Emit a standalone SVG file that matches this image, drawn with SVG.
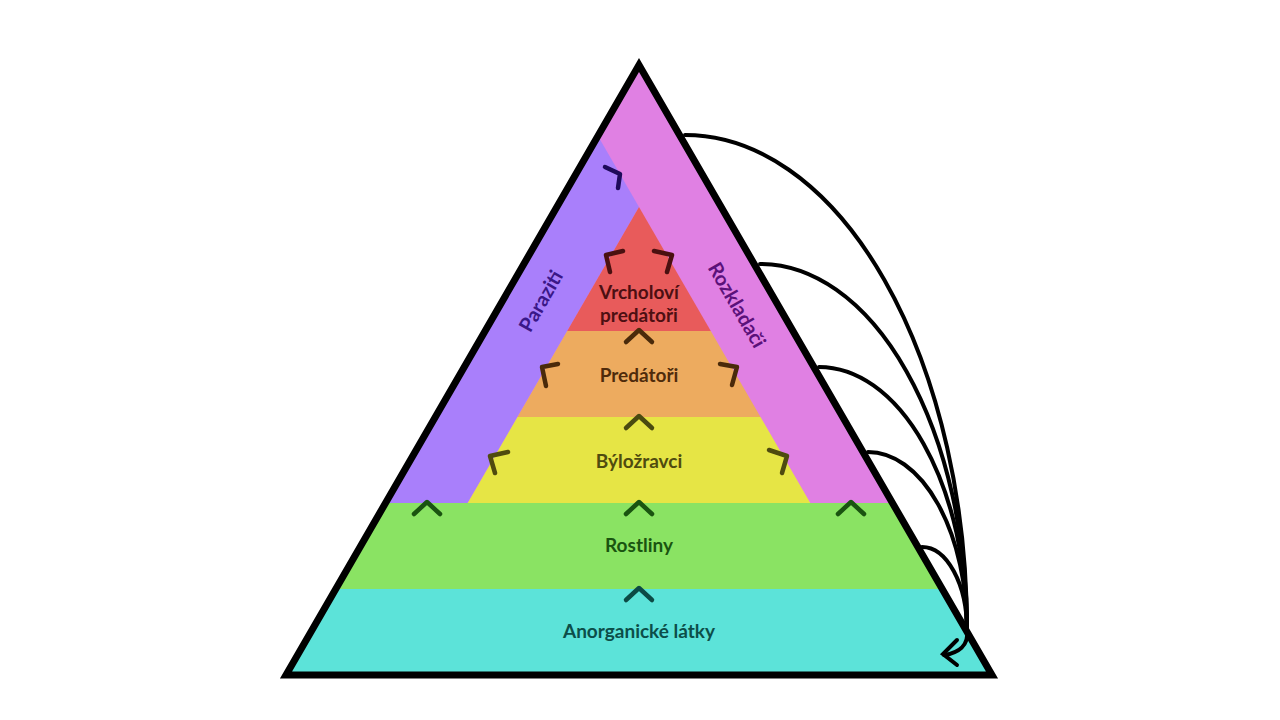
<svg xmlns="http://www.w3.org/2000/svg" width="1280" height="720" viewBox="0 0 1280 720">
<defs>
<clipPath id="tri"><polygon points="639,65 992,675 286,675"/></clipPath>
<style>
.lbl{font-family:Lato,"Open Sans","DejaVu Sans",sans-serif;font-weight:bold;font-size:19px;text-anchor:middle}
.side{font-size:20px}
.chev{fill:none;stroke-width:4.5;stroke-linecap:round;stroke-linejoin:round}
.con{fill:none;stroke:#000;stroke-width:4;stroke-linecap:round}
</style>
</defs>
<rect width="1280" height="720" fill="#ffffff"/>
<g id="pyramid" clip-path="url(#tri)">
<polygon id="rozkladaci-band" points="639,65 992,675 286,675" fill="#e080e3"/>
<polygon id="paraziti-band" points="598,136 639,207 467.7,503 200,503 200,136" fill="#a97ffb"/>
<polygon id="vrcholovi-band" points="639,207 710.8,331 567.2,331" fill="#e85b5b"/>
<polygon id="predatori-band" points="567.2,331 710.8,331 760.5,417 517.5,417" fill="#edab5f"/>
<polygon id="bylozravci-band" points="517.5,417 760.5,417 810.3,503 467.7,503" fill="#e6e545"/>
<rect id="rostliny-band" x="200" y="503" width="900" height="86" fill="#8ae363"/>
<rect id="anorganicke-band" x="200" y="589" width="900" height="90" fill="#5ce3d9"/>
</g>
<polygon id="outline" points="639,65 992,675 286,675" fill="none" stroke="#000" stroke-width="7" stroke-linejoin="miter"/>

<g id="n-vrcholovi">
<text class="lbl" x="639" y="299" fill="#4d0f12">Vrcholoví</text>
<text class="lbl" x="639" y="322" fill="#4d0f12">predátoři</text>
</g>
<g id="n-predatori"><text class="lbl" x="639" y="382" fill="#4f2b0b">Predátoři</text></g>
<g id="n-bylozravci"><text class="lbl" x="639" y="468" fill="#4f4b0f">Býložravci</text></g>
<g id="n-rostliny"><text class="lbl" x="639" y="552" fill="#1a5410">Rostliny</text></g>
<g id="n-anorganicke"><text class="lbl" x="639" y="638" fill="#0c4e49">Anorganické látky</text></g>
<g id="n-paraziti"><text class="lbl side" transform="translate(541,301) rotate(-60)" y="7" fill="#3a1788">Paraziti</text></g>
<g id="n-rozkladaci"><text class="lbl side" transform="translate(737,305) rotate(60)" y="7" fill="#5b117a">Rozkladači</text></g>

<g id="connectors">
<polyline class="chev" stroke="#1e0a5a" points="605,167 620,174 618,188"/>
<polyline class="chev" stroke="#4a1010" points="610,272 606,255 623,251"/>
<polyline class="chev" stroke="#4a1010" points="654,251 672,255 667,272"/>
<polyline class="chev" stroke="#4a2a0a" points="626,342 639,330 652,342"/>
<polyline class="chev" stroke="#4a2a0a" points="558,364 542,367 546,386"/>
<polyline class="chev" stroke="#4a2a0a" points="720,364 737,367 732,385"/>
<polyline class="chev" stroke="#4a4a10" points="626,428 639,416 652,428"/>
<polyline class="chev" stroke="#4f4b0f" points="508,452 490,456 495,473"/>
<polyline class="chev" stroke="#4f4b0f" points="769,450 787,456 782,473"/>
<polyline class="chev" stroke="#1a5410" points="414,514 427,502 440,514"/>
<polyline class="chev" stroke="#1a5410" points="626,514 639,502 652,514"/>
<polyline class="chev" stroke="#1a5410" points="838,514 851,502 864,514"/>
<polyline class="chev" stroke="#0c4a45" points="626,600 639,588 652,600"/>
<path class="con" d="M685,135 A282,495 0 0 1 967,630"/>
<path class="con" d="M760,264 A207,366 0 0 1 967,630"/>
<path class="con" d="M819,367 A148,263 0 0 1 967,630"/>
<path class="con" d="M868,452 A99,178 0 0 1 967,630"/>
<path class="con" d="M922,547 A45,83 0 0 1 967,630"/>
<path class="con" d="M967,630 C969,646 958,653 944,655"/>
<polyline class="con" points="957,640 943,654 957,665"/>
</g>
</svg>
